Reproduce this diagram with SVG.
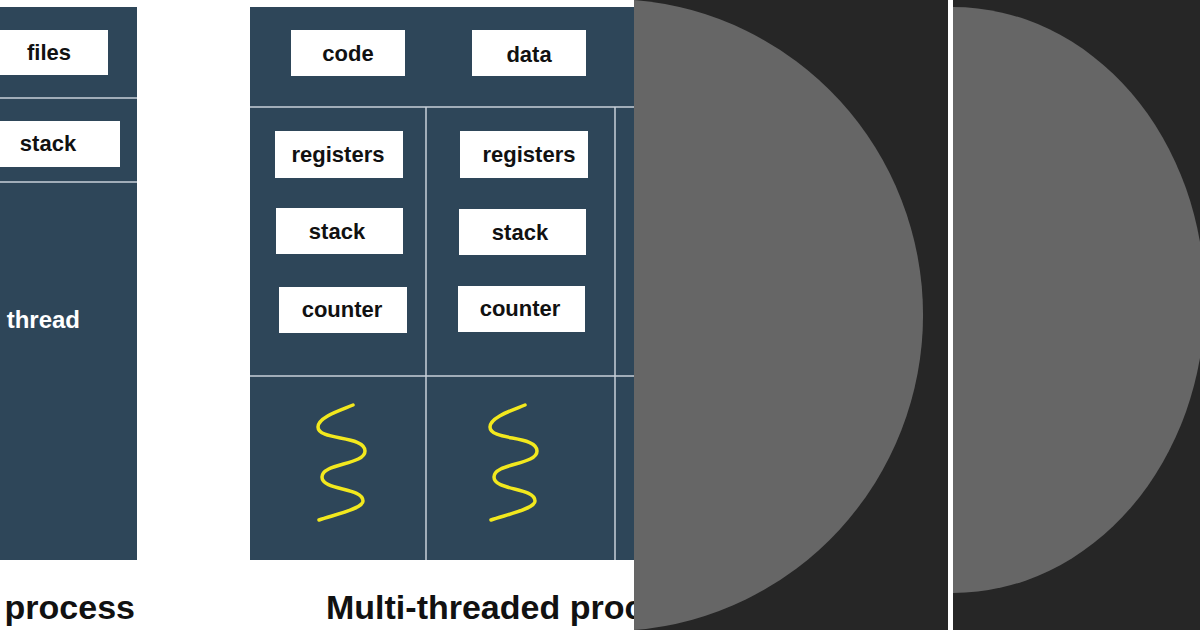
<svg xmlns="http://www.w3.org/2000/svg" width="1200" height="630" viewBox="0 0 1200 630">
<style>
.panel{fill:#2e4659}
.div{stroke:#c9d1da;stroke-width:1.5;fill:none}
.box{fill:#ffffff}
.lbl{font-family:"Liberation Sans",Arial,sans-serif;font-weight:bold;font-size:22px;fill:#111;text-anchor:middle}
.wave{fill:none;stroke:#f2e81e;stroke-width:3.5;stroke-linecap:round;stroke-linejoin:round}
.cap{font-family:"Liberation Sans",Arial,sans-serif;font-weight:bold;font-size:34px;fill:#111}
</style>
<defs>
<path id="sq" class="wave" d="M0,0 C-12,5 -35,12 -35,22 C-35,36 12,30 12,46 C12,60 -31,58 -31,72 C-31,86 10,82 10,96 C10,104 -20,110 -34,115"/>
</defs>
<rect width="1200" height="630" fill="#ffffff"/>
<g id="single">
<rect class="panel" x="-5" y="7" width="142" height="553"/>
<line class="div" x1="0" y1="98" x2="137" y2="98"/>
<line class="div" x1="0" y1="182" x2="137" y2="182"/>
<g id="files"><rect class="box" x="-5" y="30" width="113" height="45"/><text class="lbl" x="49" y="60">files</text></g>
<g id="stack0"><rect class="box" x="-5" y="121" width="125" height="46"/><text class="lbl" x="48" y="151">stack</text></g>
<text x="80" y="328" font-family="Liberation Sans,Arial,sans-serif" font-weight="bold" font-size="24" fill="#ffffff" text-anchor="end">thread</text>
<text class="cap" x="135" y="619" text-anchor="end">process</text>
</g>
<g id="multi">
<rect class="panel" x="250" y="7" width="390" height="553"/>
<line class="div" x1="250" y1="107" x2="640" y2="107"/>
<line class="div" x1="250" y1="376" x2="640" y2="376"/>
<line class="div" x1="426" y1="107" x2="426" y2="560"/>
<line class="div" x1="615" y1="107" x2="615" y2="560"/>
<g id="code"><rect class="box" x="291" y="30" width="114" height="46"/><text class="lbl" x="348" y="61">code</text></g>
<g id="data"><rect class="box" x="472" y="30" width="114" height="46"/><text class="lbl" x="529" y="62">data</text></g>
<g id="reg1"><rect class="box" x="275" y="131" width="128" height="47"/><text class="lbl" x="338" y="162">registers</text></g>
<g id="reg2"><rect class="box" x="460" y="131" width="128" height="47"/><text class="lbl" x="529" y="162">registers</text></g>
<g id="stack1"><rect class="box" x="276" y="208" width="127" height="46"/><text class="lbl" x="337" y="239">stack</text></g>
<g id="stack2"><rect class="box" x="459" y="209" width="127" height="46"/><text class="lbl" x="520" y="240">stack</text></g>
<g id="counter1"><rect class="box" x="279" y="287" width="128" height="46"/><text class="lbl" x="342" y="317">counter</text></g>
<g id="counter2"><rect class="box" x="458" y="286" width="127" height="46"/><text class="lbl" x="520" y="316">counter</text></g>
<use href="#sq" x="353" y="405"/>
<use href="#sq" x="525" y="405"/>
<text class="cap" x="326" y="619">Multi-threaded process</text>
</g>
<g id="connectors"></g>
<g id="overlay">
<rect x="634" y="0" width="566" height="630" fill="#262626"/>
<rect x="948" y="0" width="5" height="630" fill="#ffffff"/>
<path d="M634,0 A314,316 0 0 1 634,630 Z" fill="#666666"/>
<clipPath id="c2"><rect x="953" y="0" width="247" height="630"/></clipPath>
<ellipse cx="953" cy="300" rx="252" ry="293" fill="#666666" clip-path="url(#c2)"/>
</g>
</svg>
